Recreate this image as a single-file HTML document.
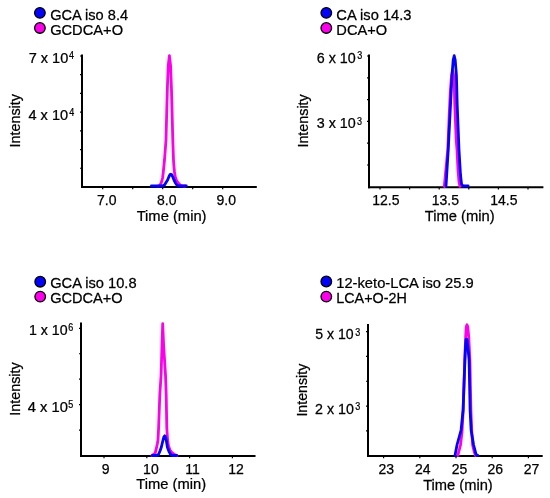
<!DOCTYPE html>
<html><head><meta charset="utf-8"><style>
html,body{margin:0;padding:0;background:#fff;}
svg{display:block;}
text{font-family:'Liberation Sans', Arial, sans-serif;fill:#000;stroke:#000;stroke-width:0.25px;}
</style></head><body>
<svg width="550" height="498" viewBox="0 0 550 498">
<rect width="550" height="498" fill="#fff"/>
<circle cx="39.9" cy="12.85" r="5.3" fill="#0303f8" stroke="#000" stroke-width="1.3"/>
<circle cx="39.9" cy="27.95" r="5.3" fill="#fd00eb" stroke="#000" stroke-width="1.3"/>
<text transform="translate(50.13,19.60) scale(0.9748,1)" font-size="15">GCA iso 8.4</text>
<text transform="translate(50.13,34.70) scale(0.9777,1)" font-size="15">GCDCA+O</text>
<line x1="82" y1="54.5" x2="82" y2="188.10" stroke="#000" stroke-width="2"/>
<line x1="81" y1="187.1" x2="256.8" y2="187.1" stroke="#000" stroke-width="2"/>
<line x1="80" y1="56.00" x2="82" y2="56.00" stroke="#000" stroke-width="1.2"/>
<line x1="80" y1="74.71" x2="82" y2="74.71" stroke="#000" stroke-width="1.2"/>
<line x1="80" y1="93.42" x2="82" y2="93.42" stroke="#000" stroke-width="1.2"/>
<line x1="80" y1="112.13" x2="82" y2="112.13" stroke="#000" stroke-width="1.2"/>
<line x1="80" y1="130.84" x2="82" y2="130.84" stroke="#000" stroke-width="1.2"/>
<line x1="80" y1="149.55" x2="82" y2="149.55" stroke="#000" stroke-width="1.2"/>
<line x1="80" y1="168.26" x2="82" y2="168.26" stroke="#000" stroke-width="1.2"/>
<line x1="102.70" y1="187.1" x2="102.70" y2="189.30" stroke="#000" stroke-width="1.2"/>
<line x1="132.70" y1="187.1" x2="132.70" y2="189.30" stroke="#000" stroke-width="1.2"/>
<line x1="162.70" y1="187.1" x2="162.70" y2="189.30" stroke="#000" stroke-width="1.2"/>
<line x1="192.70" y1="187.1" x2="192.70" y2="189.30" stroke="#000" stroke-width="1.2"/>
<line x1="222.70" y1="187.1" x2="222.70" y2="189.30" stroke="#000" stroke-width="1.2"/>
<text transform="translate(28.71,62.90) scale(1.0372,1)" font-size="14">7 x 10</text>
<text transform="translate(68.95,59.10) scale(0.9,1)" font-size="10">4</text>
<text transform="translate(28.51,119.50) scale(1.0372,1)" font-size="14">4 x 10</text>
<text transform="translate(69.15,115.70) scale(0.9,1)" font-size="10">4</text>
<text transform="translate(96.98,204.90) scale(1.0,1)" font-size="14">7.0</text>
<text transform="translate(157.03,204.90) scale(1.0,1)" font-size="14">8.0</text>
<text transform="translate(216.47,204.90) scale(1.0,1)" font-size="14">9.0</text>
<text transform="translate(136.63,220.70) scale(0.9971,1)" font-size="14.8">Time (min)</text>
<text transform="translate(19.90,147.38) rotate(-90) scale(1.0233,1)" font-size="14">Intensity</text>
<polyline points="158.0,186.0 159.5,185.5 160.8,184.0 161.8,181.0 162.6,178.0 163.3,172.0 164.0,165.0 164.5,160.0 166.0,140.0 167.3,90.0 168.2,66.0 169.4,55.6 170.6,66.0 171.5,90.0 172.8,140.0 173.5,160.0 173.8,165.0 174.5,172.0 175.3,177.0 176.3,180.0 177.8,182.5 179.5,184.5 181.5,185.7 184.0,186.0 185.5,186.0" fill="none" stroke="#fd00eb" stroke-width="2.8" stroke-linejoin="round" stroke-linecap="round"/>
<polyline points="151.4,186.0 162.5,186.0 164.5,185.0 166.0,182.5 167.6,180.0 169.0,176.5 170.0,174.6 170.8,174.2 171.6,174.6 172.6,176.5 174.0,180.0 175.5,183.0 177.0,185.2 179.0,186.0 186.3,186.0" fill="none" stroke="#0303f8" stroke-width="2.8" stroke-linejoin="round" stroke-linecap="round"/>
<circle cx="326.3" cy="12.85" r="5.3" fill="#0303f8" stroke="#000" stroke-width="1.3"/>
<circle cx="326.3" cy="27.95" r="5.3" fill="#fd00eb" stroke="#000" stroke-width="1.3"/>
<text transform="translate(336.33,19.60) scale(0.9810,1)" font-size="15">CA iso 14.3</text>
<text transform="translate(336.33,34.70) scale(0.9758,1)" font-size="15">DCA+O</text>
<line x1="369" y1="54.6" x2="369" y2="188.20" stroke="#000" stroke-width="2"/>
<line x1="368" y1="187.2" x2="543.4" y2="187.2" stroke="#000" stroke-width="2"/>
<line x1="367" y1="56.00" x2="369" y2="56.00" stroke="#000" stroke-width="1.2"/>
<line x1="367" y1="77.80" x2="369" y2="77.80" stroke="#000" stroke-width="1.2"/>
<line x1="367" y1="99.60" x2="369" y2="99.60" stroke="#000" stroke-width="1.2"/>
<line x1="367" y1="121.40" x2="369" y2="121.40" stroke="#000" stroke-width="1.2"/>
<line x1="367" y1="143.20" x2="369" y2="143.20" stroke="#000" stroke-width="1.2"/>
<line x1="367" y1="165.00" x2="369" y2="165.00" stroke="#000" stroke-width="1.2"/>
<line x1="380.00" y1="187.2" x2="380.00" y2="189.40" stroke="#000" stroke-width="1.2"/>
<line x1="409.60" y1="187.2" x2="409.60" y2="189.40" stroke="#000" stroke-width="1.2"/>
<line x1="439.20" y1="187.2" x2="439.20" y2="189.40" stroke="#000" stroke-width="1.2"/>
<line x1="468.80" y1="187.2" x2="468.80" y2="189.40" stroke="#000" stroke-width="1.2"/>
<line x1="498.40" y1="187.2" x2="498.40" y2="189.40" stroke="#000" stroke-width="1.2"/>
<line x1="528.00" y1="187.2" x2="528.00" y2="189.40" stroke="#000" stroke-width="1.2"/>
<text transform="translate(316.72,63.00) scale(1.0239,1)" font-size="14">6 x 10</text>
<text transform="translate(357.15,59.30) scale(0.9,1)" font-size="10">3</text>
<text transform="translate(316.82,128.40) scale(1.0213,1)" font-size="14">3 x 10</text>
<text transform="translate(356.95,124.70) scale(0.9,1)" font-size="10">3</text>
<text transform="translate(372.23,204.60) scale(1.0,1)" font-size="14">12.5</text>
<text transform="translate(431.73,204.60) scale(1.0,1)" font-size="14">13.5</text>
<text transform="translate(490.18,204.60) scale(1.0,1)" font-size="14">14.5</text>
<text transform="translate(424.73,221.10) scale(0.9986,1)" font-size="14.8">Time (min)</text>
<text transform="translate(307.90,147.58) rotate(-90) scale(1.0233,1)" font-size="14">Intensity</text>
<polyline points="444.3,186.5 446.8,160.0 447.8,150.0 449.4,110.0 450.4,90.0 451.5,76.0 452.6,70.5 453.8,76.0 454.4,90.0 454.8,105.0 456.2,140.0 457.0,150.0 458.0,170.0 459.0,182.0 460.0,186.5" fill="none" stroke="#fd00eb" stroke-width="2.8" stroke-linejoin="round" stroke-linecap="round"/>
<polyline points="446.0,186.2 448.2,150.0 450.5,105.0 452.0,75.0 453.2,60.0 454.2,55.7 455.2,60.0 456.4,75.0 457.2,105.0 459.0,150.0 460.5,175.0 461.5,184.0 463.0,186.0 468.1,186.0" fill="none" stroke="#0303f8" stroke-width="2.8" stroke-linejoin="round" stroke-linecap="round"/>
<circle cx="40.2" cy="281.7" r="5.3" fill="#0303f8" stroke="#000" stroke-width="1.3"/>
<circle cx="40.2" cy="296.6" r="5.3" fill="#fd00eb" stroke="#000" stroke-width="1.3"/>
<text transform="translate(50.13,287.80) scale(0.9789,1)" font-size="15">GCA iso 10.8</text>
<text transform="translate(50.13,303.40) scale(0.9737,1)" font-size="15">GCDCA+O</text>
<line x1="81" y1="322.6" x2="81" y2="457.00" stroke="#000" stroke-width="2"/>
<line x1="80" y1="456" x2="255.5" y2="456" stroke="#000" stroke-width="2"/>
<line x1="79" y1="328.30" x2="81" y2="328.30" stroke="#000" stroke-width="1.2"/>
<line x1="79" y1="353.75" x2="81" y2="353.75" stroke="#000" stroke-width="1.2"/>
<line x1="79" y1="379.20" x2="81" y2="379.20" stroke="#000" stroke-width="1.2"/>
<line x1="79" y1="404.65" x2="81" y2="404.65" stroke="#000" stroke-width="1.2"/>
<line x1="79" y1="430.10" x2="81" y2="430.10" stroke="#000" stroke-width="1.2"/>
<line x1="104.00" y1="456" x2="104.00" y2="458.20" stroke="#000" stroke-width="1.2"/>
<line x1="146.80" y1="456" x2="146.80" y2="458.20" stroke="#000" stroke-width="1.2"/>
<line x1="189.60" y1="456" x2="189.60" y2="458.20" stroke="#000" stroke-width="1.2"/>
<line x1="232.40" y1="456" x2="232.40" y2="458.20" stroke="#000" stroke-width="1.2"/>
<text transform="translate(29.02,334.90) scale(1.0133,1)" font-size="14">1 x 10</text>
<text transform="translate(68.25,331.20) scale(0.9,1)" font-size="10">6</text>
<text transform="translate(27.81,411.80) scale(1.0505,1)" font-size="14">4 x 10</text>
<text transform="translate(68.35,408.00) scale(0.9,1)" font-size="10">5</text>
<text transform="translate(101.85,473.80) scale(1.0,1)" font-size="14">9</text>
<text transform="translate(143.12,473.80) scale(1.0,1)" font-size="14">10</text>
<text transform="translate(185.22,473.80) scale(1.0,1)" font-size="14">11</text>
<text transform="translate(228.28,473.80) scale(1.0,1)" font-size="14">12</text>
<text transform="translate(136.33,489.10) scale(0.9957,1)" font-size="14.8">Time (min)</text>
<text transform="translate(19.70,415.68) rotate(-90) scale(1.0233,1)" font-size="14">Intensity</text>
<polyline points="152.0,455.5 155.0,453.5 156.0,450.0 157.3,444.0 158.0,440.0 158.6,428.0 159.8,395.0 161.1,375.0 162.0,345.0 162.7,323.7 163.6,345.0 165.5,375.0 166.2,395.0 166.8,428.0 167.6,440.0 168.5,446.0 170.0,450.0 172.0,452.5 174.5,454.5 177.0,455.5" fill="none" stroke="#fd00eb" stroke-width="2.8" stroke-linejoin="round" stroke-linecap="round"/>
<polyline points="152.4,455.5 157.0,455.5 158.5,454.5 160.0,451.0 161.3,447.3 162.8,441.0 163.8,437.0 164.7,435.8 165.6,437.0 166.4,441.0 167.4,447.3 168.8,451.0 170.6,454.5 172.5,455.5 176.6,455.5" fill="none" stroke="#0303f8" stroke-width="2.8" stroke-linejoin="round" stroke-linecap="round"/>
<circle cx="326.3" cy="281.5" r="5.3" fill="#0303f8" stroke="#000" stroke-width="1.3"/>
<circle cx="326.3" cy="296.6" r="5.3" fill="#fd00eb" stroke="#000" stroke-width="1.3"/>
<text transform="translate(336.23,287.80) scale(0.9817,1)" font-size="15">12-keto-LCA iso 25.9</text>
<text transform="translate(336.24,303.00) scale(0.9584,1)" font-size="15">LCA+O-2H</text>
<line x1="368" y1="324" x2="368" y2="457.00" stroke="#000" stroke-width="2"/>
<line x1="367" y1="456" x2="542.7" y2="456" stroke="#000" stroke-width="2"/>
<line x1="366" y1="331.60" x2="368" y2="331.60" stroke="#000" stroke-width="1.2"/>
<line x1="366" y1="356.43" x2="368" y2="356.43" stroke="#000" stroke-width="1.2"/>
<line x1="366" y1="381.26" x2="368" y2="381.26" stroke="#000" stroke-width="1.2"/>
<line x1="366" y1="406.09" x2="368" y2="406.09" stroke="#000" stroke-width="1.2"/>
<line x1="366" y1="430.92" x2="368" y2="430.92" stroke="#000" stroke-width="1.2"/>
<line x1="383.60" y1="456" x2="383.60" y2="458.20" stroke="#000" stroke-width="1.2"/>
<line x1="419.80" y1="456" x2="419.80" y2="458.20" stroke="#000" stroke-width="1.2"/>
<line x1="456.00" y1="456" x2="456.00" y2="458.20" stroke="#000" stroke-width="1.2"/>
<line x1="492.20" y1="456" x2="492.20" y2="458.20" stroke="#000" stroke-width="1.2"/>
<line x1="528.40" y1="456" x2="528.40" y2="458.20" stroke="#000" stroke-width="1.2"/>
<text transform="translate(315.22,339.20) scale(1.0080,1)" font-size="14">5 x 10</text>
<text transform="translate(355.15,335.50) scale(0.9,1)" font-size="10">3</text>
<text transform="translate(315.02,413.80) scale(1.0186,1)" font-size="14">2 x 10</text>
<text transform="translate(355.15,410.10) scale(0.9,1)" font-size="10">3</text>
<text transform="translate(378.53,473.80) scale(1.0,1)" font-size="14">23</text>
<text transform="translate(414.98,473.80) scale(1.0,1)" font-size="14">24</text>
<text transform="translate(451.78,473.80) scale(1.0,1)" font-size="14">25</text>
<text transform="translate(487.48,473.80) scale(1.0,1)" font-size="14">26</text>
<text transform="translate(523.83,473.80) scale(1.0,1)" font-size="14">27</text>
<text transform="translate(423.13,489.50) scale(0.9928,1)" font-size="14.8">Time (min)</text>
<text transform="translate(306.90,416.58) rotate(-90) scale(1.0155,1)" font-size="14">Intensity</text>
<polyline points="457.8,455.5 459.5,449.0 460.5,445.0 462.0,432.0 463.2,410.0 464.8,360.0 465.6,338.0 466.2,327.0 467.0,324.8 467.8,327.0 468.8,338.0 469.9,360.0 470.9,410.0 471.8,432.0 472.6,445.0 474.0,451.0 475.5,455.5" fill="none" stroke="#fd00eb" stroke-width="2.8" stroke-linejoin="round" stroke-linecap="round"/>
<polyline points="455.0,455.5 457.0,445.0 461.1,430.0 463.1,410.0 464.9,360.0 465.6,345.0 466.1,339.3 467.0,339.3 467.7,345.0 469.1,360.0 470.1,410.0 471.1,430.0 473.6,445.0 476.2,454.8 477.8,455.3" fill="none" stroke="#0303f8" stroke-width="2.8" stroke-linejoin="round" stroke-linecap="round"/>
</svg>
</body></html>
